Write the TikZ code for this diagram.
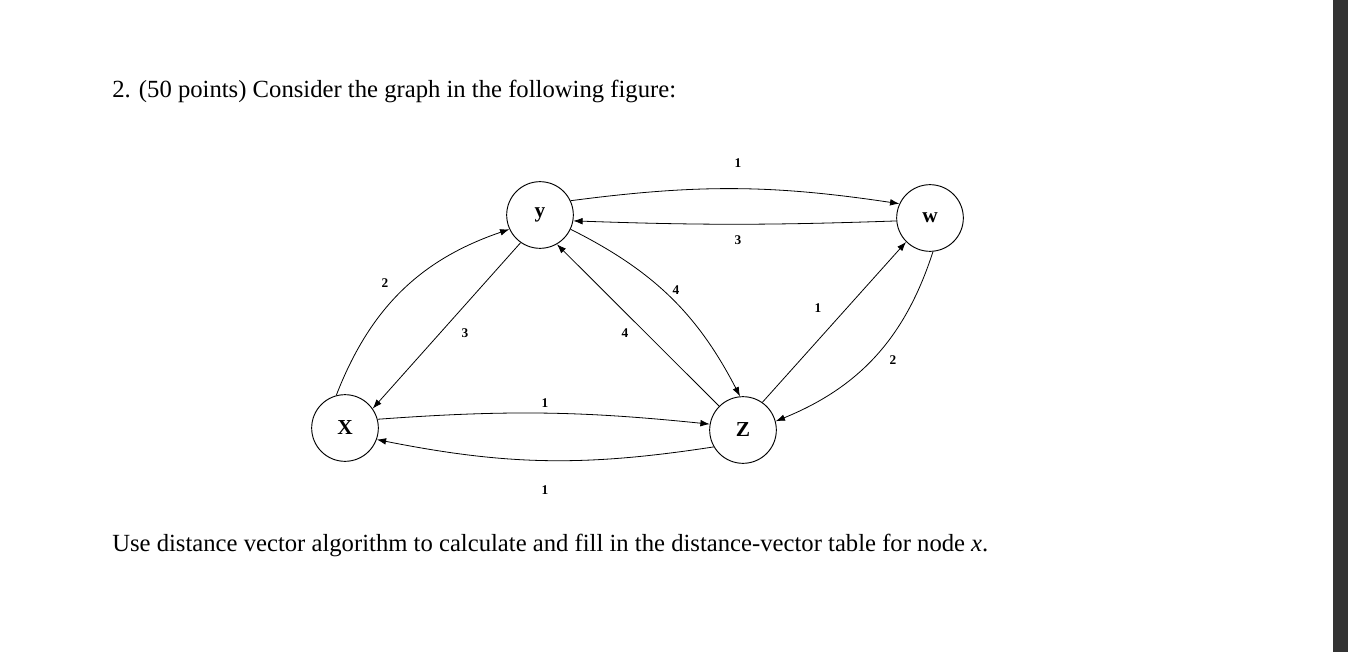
\documentclass[tikz,border=0pt]{standalone}
\usepackage{fontspec}
\setmainfont{Liberation Serif}
\usetikzlibrary{arrows.meta}
\begin{document}
\begin{tikzpicture}[x=0.75pt,y=-0.75pt,
  vert/.style={circle,draw,line width=0.7pt,minimum size=50pt,inner sep=0pt,font=\bfseries\fontsize{16}{16}\selectfont},
  edge/.style={line width=0.6pt,-{Latex[length=7pt,width=5pt]}},
  wt/.style={font=\bfseries\fontsize{10}{10}\selectfont,inner sep=1pt},
  body/.style={font=\fontsize{18.5}{18.5}\selectfont,anchor=west,inner sep=0pt}]
\useasboundingbox (0,0) rectangle (1348,652);
\fill[white] (0,0) rectangle (1348,652);
\fill[black!80] (1333,0) rectangle (1348,652);
\node[body] (t1) at (112,91) {2. (50 points) Consider the graph in the following figure:};
\node[body] (t2) at (112,545) {Use distance vector algorithm to calculate and fill in the distance-vector table for node \textit{x}.};
\node[vert] (y) at (540,215) {y};
\node[vert] (w) at (930,218) {w};
\node[vert] (x) at (345,428) {X};
\node[vert] (z) at (743,430) {Z};
\draw[edge] (y.25) to[bend left=8] (w.155);
\draw[edge] (w.185) to[bend left=2] (y.350);
\draw[edge] (x.105) to[bend left=25] (y.205);
\draw[edge] (y.235) to (x.35);
\draw[edge] (y.335) to[bend left=18] (z.95);
\draw[edge] (z.135) to (y.300);
\draw[edge] (z.55) to (w.225);
\draw[edge] (w.275) to[bend left=25] (z.15);
\draw[edge] (x.15) to[bend left=5] (z.170);
\draw[edge] (z.210) to[bend left=10] (x.340);
\node[wt] (l1) at (738,163) {1};
\node[wt] (l2) at (738,240) {3};
\node[wt] (l3) at (385,283) {2};
\node[wt] (l4) at (465,333) {3};
\node[wt] (l5) at (676,290) {4};
\node[wt] (l6) at (625,333) {4};
\node[wt] (l7) at (818,308) {1};
\node[wt] (l8) at (893,360) {2};
\node[wt] (l9) at (545,403) {1};
\node[wt] (l10) at (545,490) {1};
\end{tikzpicture}
\end{document}
